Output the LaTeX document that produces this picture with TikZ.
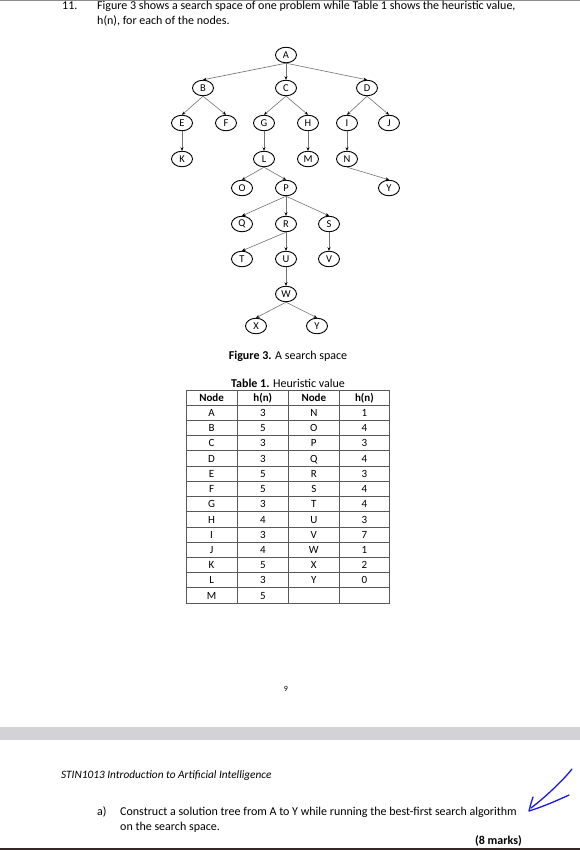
\documentclass[tikz,border=0pt]{standalone}
\usepackage{fontspec}
\setmainfont{Carlito}
\usetikzlibrary{arrows.meta,shapes.geometric}
\definecolor{penblue}{RGB}{25,25,225}
\definecolor{bandgray}{RGB}{211,211,213}
\definecolor{bottomline}{RGB}{55,40,40}
\begin{document}
\begin{tikzpicture}[x=1pt,y=-1pt,
  tn/.style={ellipse,draw,line width=0.9pt,minimum width=21pt,minimum height=15.5pt,inner sep=0pt,font=\fontsize{10.5}{10.5}\selectfont},
  ed/.style={draw=black!55,line width=0.6pt,-{Stealth[length=3.5pt,width=3pt,black]}},
  body/.style={anchor=base west,inner sep=0pt,font=\fontsize{12}{14}\selectfont},
  cell/.style={anchor=base,inner sep=0pt,font=\fontsize{11}{12}\selectfont},
  hcell/.style={cell,font=\fontsize{11}{12}\selectfont\bfseries},
  grid/.style={draw=black!65,line width=0.6pt}]
\useasboundingbox (0,0) rectangle (580,850);
\fill[white] (0,0) rectangle (580,850);
\draw[black!45,line width=1pt] (0,0.5) -- (580,0.5);
% question text
\node[body] (qn) at (62,10) {11.};
\node[body] (q1) at (97,10) {Figure 3 shows a search space of one problem while Table 1 shows the heuristic value,};
\node[body] (q2) at (97,25) {h(n), for each of the nodes.};
% tree nodes
\node[tn] (A) at (286,55) {A};
\node[tn] (B) at (203,88) {B};
\node[tn] (C) at (286,88) {C};
\node[tn] (D) at (367,88) {D};
\node[tn] (E) at (182,123) {E};
\node[tn] (F) at (226,123) {F};
\node[tn] (G) at (264,123) {G};
\node[tn] (H) at (308,123) {H};
\node[tn] (I) at (347,123) {I};
\node[tn] (J) at (389,123) {J};
\node[tn] (K) at (182,159) {K};
\node[tn] (L) at (264,159) {L};
\node[tn] (M) at (308,159) {M};
\node[tn] (N) at (347,159) {N};
\node[tn] (O) at (242,188) {O};
\node[tn] (P) at (286,188) {P};
\node[tn] (Y1) at (389,188) {Y};
\node[tn] (Q) at (242,224) {Q};
\node[tn] (R) at (286,224) {R};
\node[tn] (S) at (329,224) {S};
\node[tn] (T) at (242,259) {T};
\node[tn] (U) at (286,259) {U};
\node[tn] (V) at (329,259) {V};
\node[tn] (W) at (286,294) {W};
\node[tn] (X) at (256,326) {X};
\node[tn] (Y2) at (317,326) {Y};
% edges
\foreach \p/\c in {A/B,A/C,A/D,B/E,B/F,C/G,C/H,D/I,D/J,E/K,G/L,H/M,I/N,L/O,L/P,N/Y1,P/Q,P/R,P/S,R/T,R/U,S/V,U/W,W/X,W/Y2}
  \draw[ed] (\p.south) -- (\c.north);
% captions
\node[anchor=base,inner sep=0pt,font=\fontsize{12}{14}\selectfont] (cap3) at (288,359) {\textbf{Figure 3.} A search space};
\node[anchor=base,inner sep=0pt,font=\fontsize{12}{14}\selectfont] (cap1) at (288,387) {\textbf{Table 1.} Heuristic value};
% table grid
\draw[grid] (186,390) -- (389.5,390);
\draw[grid] (186,405) -- (389.5,405);
\foreach \k in {1,...,13} \draw[grid] (186,{405+15.23*\k}) -- (389.5,{405+15.23*\k});
\foreach \xx in {186,237.3,288.3,339.3,389.5} \draw[grid] (\xx,390) -- (\xx,603);
% header
\node[hcell] (h1) at (211.6,401.5) {Node};
\node[hcell] (h2) at (262.8,401.5) {h(n)};
\node[hcell] (h3) at (313.8,401.5) {Node};
\node[hcell] (h4) at (364.4,401.5) {h(n)};
\foreach \n/\h [count=\i] in {A/3,B/5,C/3,D/3,E/5,F/5,G/3,H/4,I/3,J/4,K/5,L/3,M/5} {
  \node[cell] (ln\i) at (211.6,{405+15.23*(\i-0.5)+3.8}) {\n};
  \node[cell] (lh\i) at (262.8,{405+15.23*(\i-0.5)+3.8}) {\h};
}
\foreach \n/\h [count=\i] in {N/1,O/4,P/3,Q/4,R/3,S/4,T/4,U/3,V/7,W/1,X/2,Y/0} {
  \node[cell] (rn\i) at (313.8,{405+15.23*(\i-0.5)+3.8}) {\n};
  \node[cell] (rh\i) at (364.4,{405+15.23*(\i-0.5)+3.8}) {\h};
}
% page number
\node[anchor=base,inner sep=0pt,font=\fontsize{8}{9}\selectfont] (pg) at (286,691) {9};
% band
\fill[bandgray] (0,727) rectangle (580,739.5);
% footer
\node[body,font=\fontsize{11.3}{13}\selectfont\itshape] (course) at (61,778) {STIN1013 Introduction to Artificial Intelligence};
\node[body] (qa) at (97,815) {a)};
\node[body] (qa1) at (120,815) {Construct a solution tree from A to Y while running the best-first search algorithm};
\node[body] (qa2) at (120,830) {on the search space.};
\node[anchor=base east,inner sep=0pt,font=\fontsize{12}{14}\selectfont\bfseries] (marks) at (522,844) {(8 marks)};
% check mark
\draw[penblue,line width=1.3pt,line cap=round,line join=round]
  (533,797) .. controls (531,803) .. (529,811) .. controls (545,806) and (558,800) .. (569,795);
\draw[penblue,line width=1.3pt,line cap=round]
  (572,769) .. controls (565,778) and (548,795) .. (531,808);
\draw[bottomline,line width=2pt] (0,849) -- (580,849);
\end{tikzpicture}
\end{document}
